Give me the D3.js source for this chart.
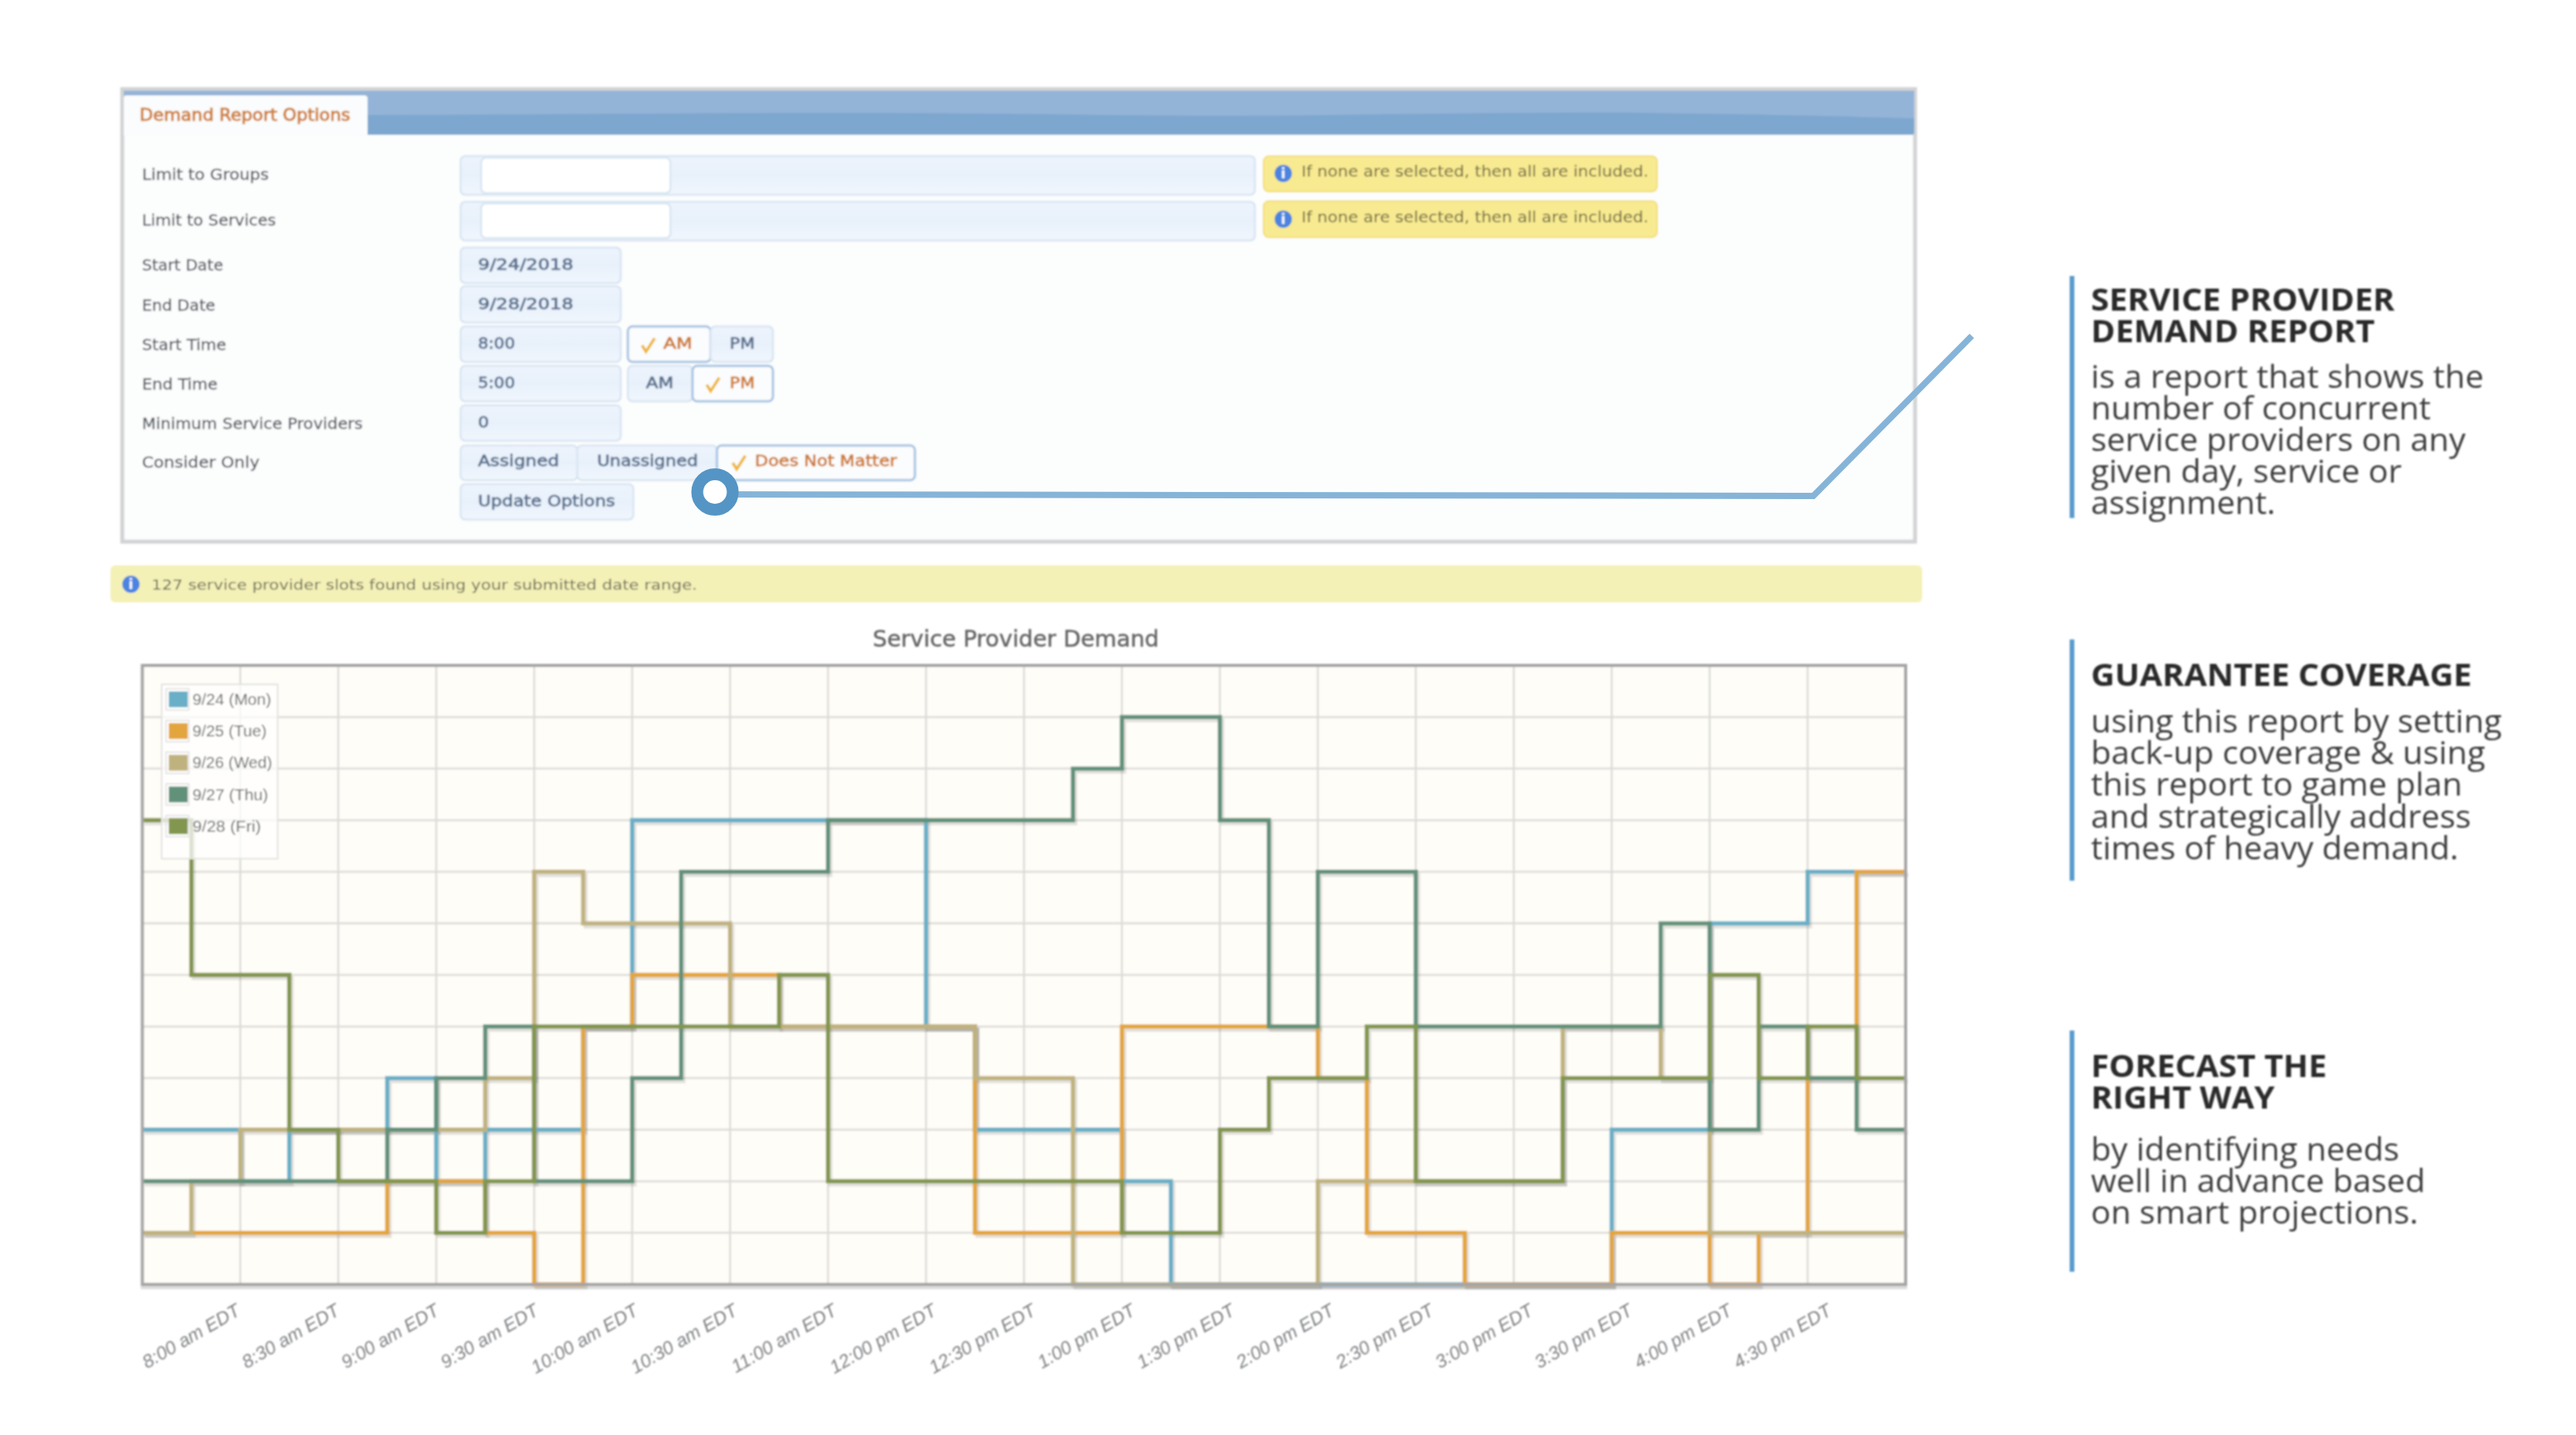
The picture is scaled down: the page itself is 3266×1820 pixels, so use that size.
<!DOCTYPE html>
<html><head><meta charset="utf-8">
<script src="https://cdn.jsdelivr.net/npm/d3@7"></script>
<style>html,body{margin:0;padding:0;background:#fff}svg{display:block}</style>
</head><body><svg id="c" width="3266" height="1820" viewBox="0 0 3266 1820"></svg>
<script>
// ---- chart data: providers per 15-minute slot ----
const tickLabels = ["8:00 am EDT","8:30 am EDT","9:00 am EDT","9:30 am EDT","10:00 am EDT","10:30 am EDT","11:00 am EDT","12:00 pm EDT","12:30 pm EDT","1:00 pm EDT","1:30 pm EDT","2:00 pm EDT","2:30 pm EDT","3:00 pm EDT","3:30 pm EDT","4:00 pm EDT","4:30 pm EDT"];
const seriesNames = ["9/24 (Mon)","9/25 (Tue)","9/26 (Wed)","9/27 (Thu)","9/28 (Fri)"];
const seriesColors = ["#68afc7","#e3a53c","#c0b27f","#62917a","#82964f"];
const mon = [3,3,2,3,3,4,2,3,3,5,9,9,9,9,9,9,5,3,3,3,2,0,0,0,0,0,0,0,0,0,3,3,7,7,8,8];
const tue = [1,1,1,1,1,2,2,1,0,5,6,6,6,5,5,5,5,1,1,1,5,5,5,5,4,1,1,0,0,0,1,1,0,1,4,8];
const wed = [1,2,3,3,3,3,3,4,8,7,7,7,5,5,5,5,5,4,4,0,0,0,0,0,2,2,2,2,2,5,5,4,1,1,1,1];
const thu = [2,2,2,2,2,3,4,5,2,2,4,8,8,8,9,9,9,9,9,10,11,11,9,5,8,8,5,5,5,5,5,7,3,5,4,3];
const fri = [9,6,6,3,2,2,1,2,5,5,5,5,5,6,2,2,2,2,2,2,1,1,3,4,4,5,2,2,2,4,4,4,6,4,5,4];
const allSeries = [mon,tue,wed,thu,fri];
const chartTitle = "Service Provider Demand";
const notice = "127 service provider slots found using your submitted date range.";
const hint = "If none are selected, then all are included.";
const blocks = [
 {top:350,bottom:657,head:[["SERVICE PROVIDER",394,385],["DEMAND REPORT",434,360]],
  body:[["is a report that shows the",492,498],["number of concurrent",532,431],["service providers on any",572,475],["given day, service or",612,394],["assignment.",652,234]]},
 {top:811,bottom:1117,head:[["GUARANTEE COVERAGE",870,483]],
  body:[["using this report by setting",929,521],["back-up coverage & using",969,500],["this report to game plan",1009,471],["and strategically address",1050,482],["times of heavy demand.",1090,466]]},
 {top:1307,bottom:1613,head:[["FORECAST THE",1366,299],["RIGHT WAY",1406,233]],
  body:[["by identifying needs",1472,391],["well in advance based",1512,424],["on smart projections.",1552,415]]}
];

const svg = d3.select("#c");
const FORM = "'DejaVu Sans',sans-serif", OS = "'Open Sans',sans-serif";
function txt(g,s,x,y,o={}){
  const t = g.append("text").attr("x",x).attr("y",y).text(s)
    .attr("font-family",o.font||FORM).attr("font-size",o.size||20)
    .attr("fill",o.fill||"#555").attr("dominant-baseline",o.base||"central");
  if(o.weight) t.attr("font-weight",o.weight);
  if(o.w) t.attr("textLength",o.w).attr("lengthAdjust","spacingAndGlyphs");
  if(o.anchor) t.attr("text-anchor",o.anchor);
  if(o.semi) t.attr("stroke",o.fill).attr("stroke-width",o.semi);
  return t;
}
const defs = svg.append("defs");
const grad = defs.append("linearGradient").attr("id","ctl").attr("x1",0).attr("x2",0).attr("y1",0).attr("y2",1);
grad.append("stop").attr("offset","0").attr("stop-color","#edf4fd");
grad.append("stop").attr("offset","0.5").attr("stop-color","#e8f1fb");
grad.append("stop").attr("offset","1").attr("stop-color","#f0f6fd");
defs.append("filter").attr("id","soft").attr("x","-2%").attr("y","-2%").attr("width","104%").attr("height","104%")
  .append("feGaussianBlur").attr("stdDeviation",0.8);

// ---- report options panel ----
const panel = svg.append("g").attr("filter","url(#soft)");
panel.append("rect").attr("x",155).attr("y",113).attr("width",2273).attr("height",574)
  .attr("fill","#fcfdfd").attr("stroke","#d2d3d5").attr("stroke-width",5);
panel.append("rect").attr("x",157).attr("y",115).attr("width",2270).attr("height",56).attr("rx",3).attr("fill","#7ea7cf");
const wave = d3.line().curve(d3.curveBasis)([[157,147],[700,145],[1200,141],[1550,150],[2000,139],[2427,150]]);
panel.append("path").attr("fill","#94b4d7").attr("d",wave+"L2427,115L157,115Z");
panel.append("path").attr("fill","#fafcfd").attr("d","M157,172V124Q157,121 160,121H462Q466,121 466,125V172Z");
txt(panel,"Demand Report Options",177,146,{fill:"#d0813a",size:21,w:267,semi:1});

[["Limit to Groups",221,161],["Limit to Services",279,170],["Start Date",336,103],["End Date",387,93],["Start Time",437,107],["End Time",487,96],["Minimum Service Providers",537,280],["Consider Only",586,149]]
 .forEach(d=>txt(panel,d[0],180,d[1],{fill:"#555a61",size:20,w:d[2],semi:0.3}));

function box(x0,x1,y0,y1,sel){
  panel.append("rect").attr("x",x0).attr("y",y0).attr("width",x1-x0).attr("height",y1-y0).attr("rx",6)
   .attr("fill",sel?"#fbfcfd":"url(#ctl)").attr("stroke",sel?"#a9c5e4":"#d9e5f2").attr("stroke-width",sel?3:2.5);
}
[[198,247,200,245],[256,305,258,302]].forEach(r=>{
  box(584,1591,r[0],r[1]);
  panel.append("rect").attr("x",610).attr("y",r[2]).attr("width",240).attr("height",r[3]-r[2]).attr("rx",6)
   .attr("fill","#fff").attr("stroke","#d9e5f2").attr("stroke-width",2.5);
});
const SEMI=0.8;
[[314,359,"9/24/2018",335,121],[363,409,"9/28/2018",385,121],[414,459,"8:00",435,47],[464,509,"5:00",485,47],[514,559,"0",535,14]]
 .forEach(d=>{box(584,787,d[0],d[1]);txt(panel,d[2],606,d[3],{fill:"#5c7290",size:20,w:d[4],semi:SEMI});});
function check(x,y){
  panel.append("path").attr("d",`M${x-8},${y}L${x-3},${y+8}L${x+8},${y-9}`).attr("fill","none").attr("stroke","#eeb52f").attr("stroke-width",3.5);
}
const BL="#5c7290",OR="#cf7d35";
box(796,901,414,459,true); box(901,980,414,459);
txt(panel,"AM",841,435,{fill:OR,size:20,w:37,semi:SEMI}); check(822,438); txt(panel,"PM",925,435,{fill:BL,size:20,w:32,semi:SEMI});
box(796,878,464,509); box(878,980,464,509,true);
txt(panel,"AM",819,485,{fill:BL,size:20,w:35,semi:SEMI}); check(904,488); txt(panel,"PM",925,485,{fill:OR,size:20,w:32,semi:SEMI});
box(584,732,565,609); box(732,909,565,609); box(909,1160,565,609,true);
txt(panel,"Assigned",606,584,{fill:BL,size:20,w:103,semi:SEMI});
txt(panel,"Unassigned",757,584,{fill:BL,size:20,w:128,semi:SEMI});
check(937,587); txt(panel,"Does Not Matter",957,584,{fill:OR,size:20,w:180,semi:SEMI});
box(584,803,614,659); txt(panel,"Update Options",606,635,{fill:BL,size:20,w:174,semi:SEMI});

function info(g,x,y){
  g.append("circle").attr("cx",x).attr("cy",y).attr("r",11).attr("fill","#4c84e0");
  txt(g,"i",x,y,{fill:"#fff",size:17,weight:700,anchor:"middle"});
}
[[198,243,220,217],[255,301,278,275]].forEach(r=>{
  panel.append("rect").attr("x",1602).attr("y",r[0]).attr("width",499).attr("height",r[1]-r[0]).attr("rx",7)
   .attr("fill","#f8ea91").attr("stroke","#f3de7c").attr("stroke-width",2);
  info(panel,1627,r[2]);
  txt(panel,hint,1650,r[3],{fill:"#6b6542",size:20,w:440});
});

// notice bar
const nb = svg.append("g").attr("filter","url(#soft)");
nb.append("rect").attr("x",140).attr("y",717).attr("width",2297).attr("height",47).attr("rx",6).attr("fill","#f4f1b7");
info(nb,166,741);
txt(nb,notice,192,741,{fill:"#6a6a58",size:18,w:692});

// ---- chart ----
const slots = 36, L=180.5, R=2416, T=844, B=1629;
const x = d3.scaleLinear().domain([0,slots]).range([L,R]);
const y = d3.scaleLinear().domain([0,12]).range([B,T]);
txt(svg,chartTitle,1288,810,{fill:"#666",size:29,w:363,anchor:"middle",semi:0.5}).attr("filter","url(#soft)");

const plot = svg.append("g").attr("filter","url(#soft)");
plot.append("rect").attr("x",L).attr("y",T).attr("width",R-L).attr("height",B-T).attr("fill","#fffdf8");
plot.selectAll("line.v").data(d3.range(2,slots,2)).join("line").attr("class","v")
  .attr("x1",d=>x(d)).attr("x2",d=>x(d)).attr("y1",T).attr("y2",B+6).attr("stroke","#dddcd8").attr("stroke-width",2.5);
plot.selectAll("line.h").data(d3.range(1,12)).join("line").attr("class","h")
  .attr("x1",L).attr("x2",R).attr("y1",d=>y(d)).attr("y2",d=>y(d)).attr("stroke","#dddcd8").attr("stroke-width",2.5);
plot.append("rect").attr("x",L-2).attr("y",B+1).attr("width",R-L+4).attr("height",5).attr("fill","#dcdcdc");

const stepLine = d3.line().x((d,i)=>x(i)).y(d=>y(d)).curve(d3.curveStepAfter);
const closed = s => s.concat(s[s.length-1]);
allSeries.forEach(s=>{
  plot.append("path").attr("d",stepLine(closed(s))).attr("fill","none")
   .attr("stroke","rgba(60,60,60,.15)").attr("stroke-width",5).attr("transform","translate(3,4)");
});
allSeries.forEach((s,i)=>{
  plot.append("path").attr("d",stepLine(closed(s))).attr("fill","none")
   .attr("stroke",seriesColors[i]).attr("stroke-width",5.4);
});
plot.append("rect").attr("x",L).attr("y",T).attr("width",R-L).attr("height",B-T)
  .attr("fill","none").attr("stroke","#a5a5a5").attr("stroke-width",4);

// tick labels via the D3 axis (the labels run slightly wider than the grid)
const axis = d3.axisBottom(x).tickValues(d3.range(2,slots,2)).tickSize(0).tickPadding(0)
  .tickFormat((d,i)=>tickLabels[i]);
const ax = svg.append("g").attr("transform",`translate(0,${B})`).attr("filter","url(#soft)").call(axis);
ax.select(".domain").remove();
ax.selectAll("text").attr("text-anchor","end").attr("font-family","'Liberation Sans',sans-serif")
  .attr("font-style","italic").attr("font-size",23.5).attr("fill","#808285")
  .attr("dy",0).attr("y",0).attr("dominant-baseline","central")
  .attr("transform",(d,i)=>`translate(${-3+i*1.9},31) rotate(-30)`);

// legend
const lg = svg.append("g").attr("filter","url(#soft)");
lg.append("rect").attr("x",205).attr("y",868).attr("width",147).attr("height",221)
  .attr("fill","rgba(255,255,255,.72)").attr("stroke","#e3e3e0").attr("stroke-width",2);
const legendW=[100,94,101,96,87];
seriesNames.forEach((n,i)=>{
  const cy=887+40.2*i;
  lg.append("rect").attr("x",210.5).attr("y",cy-13.5).attr("width",29).attr("height",27).attr("fill","none").attr("stroke","#ddd").attr("stroke-width",1.5);
  lg.append("rect").attr("x",214).attr("y",cy-10).attr("width",24).attr("height",20).attr("fill",seriesColors[i]);
  txt(lg,n,244,cy,{fill:"#6b6b6b",size:20,w:legendW[i],font:"'Liberation Sans',sans-serif"});
});

// callout
const call = svg.append("g");
call.append("path").attr("d",d3.line()([[906,627],[2299,629],[2500,426]])).attr("fill","none")
  .attr("stroke","#86b4d8").attr("stroke-width",8);
call.append("circle").attr("cx",906.5).attr("cy",624).attr("r",22.5).attr("fill","#fff").attr("stroke","#5495c5").attr("stroke-width",15);

// right column
const rc = svg.append("g").attr("filter","url(#soft)");
blocks.forEach(b=>{
  rc.append("rect").attr("x",2624).attr("y",b.top).attr("width",6).attr("height",b.bottom-b.top).attr("fill","#5a9bcd");
  b.head.forEach(h=>txt(rc,h[0],2651,h[1],{font:OS,size:40,weight:700,fill:"#2b2b2b",w:h[2],base:"alphabetic"}));
  b.body.forEach(h=>txt(rc,h[0],2651,h[1],{font:OS,size:40,fill:"#3c3c3c",w:h[2],base:"alphabetic"}));
});
</script></body></html>
